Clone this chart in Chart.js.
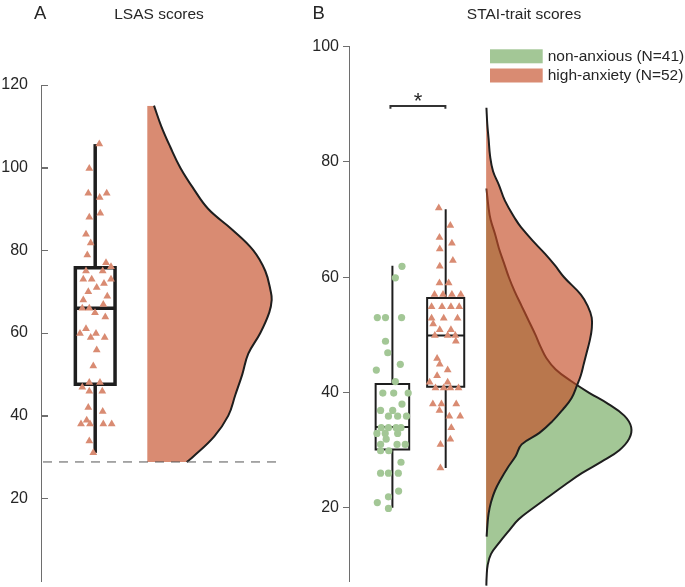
<!DOCTYPE html>
<html><head><meta charset="utf-8">
<script src="https://cdn.jsdelivr.net/npm/chart.js@4.4.1/dist/chart.umd.min.js"></script>
<style>
html,body{margin:0;padding:0;background:#fff;width:685px;height:587px;overflow:hidden;position:relative}
#ca{position:absolute;left:0;top:0}
#cb{position:absolute;left:300px;top:0}
</style></head><body>
<canvas id="ca" width="300" height="587"></canvas>
<canvas id="cb" width="385" height="587"></canvas>
<script>
// ---------------- DATA ----------------
const lsasTicks = [20, 40, 60, 80, 100, 120];
const staiTicks = [20, 40, 60, 80, 100];
const panelTitles = ['LSAS scores', 'STAI-trait scores'];
const groupLabels = ['non-anxious (N=41)', 'high-anxiety (N=52)'];

// Panel A: LSAS scores (high-anxiety group)
const lsasScores = [105.7, 99.8, 93.8, 93.8, 92.8, 89.0, 88.0, 83.9, 81.8, 78.9, 77.0, 76.0, 75.0, 75.0, 73.0, 73.0, 73.0, 72.0, 71.0, 70.0, 68.9, 68.0, 66.9, 66.0, 66.0, 64.9, 63.9, 61.0, 59.9, 59.9, 58.9, 58.9, 55.9, 52.0, 48.0, 48.0, 46.9, 45.9, 45.9, 42.0, 41.0, 38.9, 38.0, 38.0, 38.0, 38.0, 33.9, 31.0];
const lsasJitter = [4.1, -5.9, -6.9, 11.5, 4.5, 5.1, -5.9, -9.2, -4.5, -7.9, 10.8, 15.8, -9.2, 7.5, -11.9, -3.5, 15.8, 8.8, 1.5, -6.9, 12.1, -11.9, 8.1, -12.9, -5.9, -0.2, 10.1, -9.2, -15.2, 0.8, -4.5, 9.5, 1.5, -1.9, -5.9, 4.8, -12.9, -5.9, 7.1, -6.9, 7.5, -8.5, -14.2, -5.2, 8.1, 16.5, -5.9, -1.9];
const lsasBox = [31.0, 47.6, 66.0, 75.8, 105.7]; // whisker low, Q1, median, Q3, whisker high
const lsasDensityScores = [28.8, 30, 35, 40, 45, 50, 55, 60, 65, 68, 70, 75, 80, 85, 90, 95, 100, 105, 110, 115];
const lsasDensityWidths = [39.4, 45.5, 67, 81, 88, 95, 101, 113, 122, 124.4, 123.5, 118, 106, 85, 61, 46, 33, 23, 14, 6.7];
const lsasCutoff = 28.8;

// Panel B: STAI-trait scores
const nonScores = [61.9, 59.9, 53.0, 53.0, 53.0, 48.9, 46.9, 44.9, 43.9, 41.9, 39.9, 39.9, 39.9, 38.0, 36.9, 36.9, 35.9, 35.9, 35.9, 33.9, 33.9, 33.9, 33.9, 32.9, 32.9, 32.9, 31.9, 31.0, 31.0, 31.0, 29.9, 29.9, 27.9, 26.0, 26.0, 26.0, 22.9, 21.9, 20.9, 19.9];
const nonJitter = [9.7, 3, -15.3, -7, 9.3, -7, -4.7, 8, -16.3, 3, -9.7, 1.3, 16, 9.7, -12, 0.3, -4, 5.3, 14.3, -11.3, -4, 3.7, 8.7, -15.7, -7.3, 5.3, -6.3, -12, 4.7, 13, -12, -3.7, 8.7, -12, -4, 6, 6.3, -4, -15.3, -4];
const highScores = [72.0, 69.0, 66.9, 65.9, 64.9, 62.9, 61.9, 59.0, 59.0, 57.0, 57.0, 57.0, 57.0, 54.9, 54.9, 54.9, 54.9, 52.9, 52.9, 52.9, 51.9, 50.9, 50.9, 49.9, 49.9, 49.9, 48.9, 45.9, 44.9, 43.9, 42.9, 41.8, 41.8, 40.8, 40.8, 40.8, 40.8, 38.0, 38.0, 38.0, 36.9, 35.9, 35.9, 33.9, 31.9, 31.0, 26.9];
const highJitter = [-7, 4.7, -6.3, 6.3, -6, 7.3, -6, -6.3, 3, -11.3, -2.7, 6.3, 15.3, -14.3, -3.7, 5.3, 13.7, -14.3, -2, 12, -12.7, -6, 5.3, -11, 2, 9.7, 10.3, -8.7, -6, 2, -8.7, -16.3, 2, -10.3, -2, 4.7, 13, -13, -4.3, 10.7, -6.3, 3.7, 14.7, 5.7, 4.7, -5.3, -5.3];
const nonBox = [20.0, 30.1, 34.0, 41.5, 62.0];
const highBox = [26.9, 41.0, 49.9, 56.4, 71.8];
const nonDensityScores = [6.5, 8, 10, 12, 14, 16, 18, 20, 22, 24, 26, 28, 30, 32, 34, 36, 38, 40, 42, 44, 46, 48, 50, 52.5, 55, 57.5, 60, 62.5, 65, 67.5, 70, 72, 75.4];
const nonDensityWidths = [0.2, 0.5, 1.5, 5, 13.5, 23, 33, 48, 64, 80, 97, 117, 135, 145, 147, 140, 124, 104, 86, 70.5, 61, 55, 50, 43, 36, 29, 23, 18, 13, 9, 4.5, 2.5, 0.3];
const highDensityScores = [15, 17, 19, 21, 23, 25, 27, 29, 31, 33, 35, 37, 39, 41.2, 43, 45, 47, 49, 51, 53, 55, 57, 60, 62, 64, 66, 68.7, 70, 73.3, 76, 78.4, 81, 84, 86.5, 89.4];
const highDensityWidths = [0.5, 1.3, 2.5, 5, 9, 15, 22, 30, 36, 54, 67, 77.5, 86.5, 92, 96, 99, 102, 105, 107, 107, 103, 96, 79, 70, 60, 49, 35.3, 30, 19, 13, 7, 4, 2.5, 1.2, 0.3];
const sigBracket = 89.7;

// ---------------- STYLE / LAYOUT ----------------
const FONT = "'Liberation Sans', Arial, Helvetica, sans-serif";
const C_ORANGE = '#d98b72';
const C_ORANGE_TR = 'rgba(197,77,38,0.65)';
const C_GREEN = '#a3c796';
const C_DARK = '#1e1e1e';
const C_AXIS = '#6e6e6e';
Chart.defaults.font.family = FONT;
Chart.defaults.color = '#262626';
Chart.defaults.animation = false;

const LA = {center: 54.2, half: 19.85, densBase: 106.3, dashFrom: 2, dashTo: 237};
const LB = {nonCenter: 44, nonHalf: 17, highCenter: 98, highHalf: 18.8, densBase: 139, brL: 42, brR: 97.7};

function pts(xs, ys) { return ys.map((y, i) => ({x: xs[i], y})); }
function boxSets(b, center, half, width) {
  const [lo, q1, med, q3, hi] = b;
  const L = center - half, R = center + half;
  const c = {type: 'line', showLine: true, pointRadius: 0, borderColor: C_DARK, borderWidth: width, fill: false, tension: 0, order: 5};
  return [
    {...c, data: [{x: L, y: q1}, {x: L, y: q3}, {x: R, y: q3}, {x: R, y: q1}, {x: L, y: q1}], borderJoinStyle: 'miter', borderCapStyle: 'square'},
    {...c, data: [{x: L, y: med}, {x: R, y: med}]},
    {...c, data: [{x: center, y: q3}, {x: center, y: hi}]},
    {...c, data: [{x: center, y: lo}, {x: center, y: q1}]}
  ];
}
function densitySet(scores, widths, base, fillColor, order, extra) {
  return Object.assign({
    type: 'line', data: scores.map((s, i) => ({x: base + widths[i], y: s})),
    borderColor: C_DARK, borderWidth: 2, backgroundColor: fillColor,
    fill: {value: base}, tension: 0.4, pointRadius: 0, order
  }, extra || {});
}

const textPlugin = {
  id: 'panelText',
  afterDraw(chart, args, opts) {
    const ctx = chart.ctx;
    ctx.save();
    if (opts.innerTicks) {
      const ys = chart.scales.y;
      ctx.strokeStyle = C_AXIS; ctx.lineWidth = 1;
      ys.ticks.forEach(t => {
        const py = Math.round(ys.getPixelForValue(t.value)) + 0.5;
        ctx.beginPath(); ctx.moveTo(ys.right, py); ctx.lineTo(ys.right + opts.innerTicks, py); ctx.stroke();
      });
    }
    (opts.items || []).forEach(it => {
      ctx.font = it.font; ctx.fillStyle = it.color || '#262626';
      ctx.textAlign = it.align || 'left'; ctx.textBaseline = 'alphabetic';
      ctx.fillText(it.text, it.x, it.y);
    });
    if (opts.legend) {
      opts.legend.forEach(it => {
        ctx.fillStyle = it.color;
        ctx.fillRect(it.x, it.y, it.w, it.h);
        ctx.font = '15.5px ' + FONT; ctx.fillStyle = '#262626';
        ctx.textAlign = 'left'; ctx.textBaseline = 'middle';
        ctx.fillText(it.text, it.x + it.w + 5, it.y + it.h / 2 + 0.5);
      });
    }
    if (opts.star) {
      const xs = chart.scales.x, ys = chart.scales.y;
      const px = xs.getPixelForValue(opts.star.x), py = ys.getPixelForValue(opts.star.y);
      ctx.font = '22px ' + FONT; ctx.fillStyle = '#262626'; ctx.textAlign = 'center';
      ctx.textBaseline = 'alphabetic';
      const m = ctx.measureText('*');
      const base = py - 9.5 + (m.actualBoundingBoxAscent - m.actualBoundingBoxDescent) / 2;
      ctx.fillText('*', px, base);
    }
    ctx.restore();
  }
};

function yScale(min, max, ticks, width, tickLen, pad) {
  return {
    type: 'linear', position: 'left', min, max,
    afterBuildTicks: s => { s.ticks = ticks.map(v => ({value: v})); },
    afterFit: s => { s.width = width; s.paddingTop = 0; s.paddingBottom = 0; },
    grid: {drawOnChartArea: false, drawTicks: true, tickLength: tickLen, color: C_AXIS, tickColor: C_AXIS, lineWidth: 1},
    border: {display: true, color: C_AXIS, width: 1},
    ticks: {padding: pad, font: {size: 16}, color: '#262626', callback: v => String(v)}
  };
}

// ---------------- CHART A ----------------
new Chart(document.getElementById('ca'), {
  type: 'line',
  data: {datasets: [
    {type: 'line', data: pts(lsasJitter.map(j => LA.center + j), lsasScores), showLine: false,
     pointStyle: 'triangle', pointRadius: 4.5, pointBackgroundColor: C_ORANGE, pointBorderWidth: 0, order: 0},
    {type: 'line', data: [{x: LA.dashFrom, y: lsasCutoff}, {x: LA.dashTo, y: lsasCutoff}], borderColor: '#555',
     borderWidth: 1, borderDash: [9, 7], pointRadius: 0, fill: false, order: 1},
    ...boxSets(lsasBox, LA.center, LA.half, 3.5),
    densitySet(lsasDensityScores, lsasDensityWidths, LA.densBase, C_ORANGE, 10)
  ]},
  options: {
    responsive: false, indexAxis: 'y', events: [],
    layout: {padding: {top: 85, bottom: 6, left: 0, right: 9}},
    scales: {
      x: {type: 'linear', min: 0, max: 250, display: false},
      y: yScale(0, 120, lsasTicks, 41, -7, 20)
    },
    plugins: {
      legend: {display: false}, tooltip: {enabled: false},
      panelText: {
        innerTicks: 7,
        items: [
          {text: 'A', x: 34, y: 18.5, font: '18.5px ' + FONT},
          {text: panelTitles[0], x: 159, y: 18.5, font: '15.5px ' + FONT, align: 'center'}
        ]
      }
    }
  },
  plugins: [textPlugin]
});

// ---------------- CHART B ----------------
new Chart(document.getElementById('cb'), {
  type: 'line',
  data: {datasets: [
    {type: 'line', data: pts(nonJitter.map(j => LB.nonCenter + j), nonScores), showLine: false,
     pointStyle: 'circle', pointRadius: 3.6, pointBackgroundColor: C_GREEN, pointBorderWidth: 0, order: 0},
    {type: 'line', data: pts(highJitter.map(j => LB.highCenter + j), highScores), showLine: false,
     pointStyle: 'triangle', pointRadius: 4.5, pointBackgroundColor: C_ORANGE, pointBorderWidth: 0, order: 0},
    {type: 'line', data: [{x: LB.brL, y: sigBracket - 0.45}, {x: LB.brL, y: sigBracket}, {x: LB.brR, y: sigBracket}, {x: LB.brR, y: sigBracket - 0.45}],
     borderColor: '#333', borderWidth: 2, pointRadius: 0, fill: false, order: 1},
    ...boxSets(nonBox, LB.nonCenter, LB.nonHalf, 2),
    ...boxSets(highBox, LB.highCenter, LB.highHalf, 2),
    densitySet(highDensityScores, highDensityWidths, LB.densBase, C_ORANGE_TR, 11),
    densitySet(nonDensityScores, nonDensityWidths, LB.densBase, C_GREEN, 12, {clip: false})
  ]},
  options: {
    responsive: false, indexAxis: 'y', events: [],
    layout: {padding: {top: 46.7, bottom: 6, left: 0, right: 0}},
    scales: {
      x: {type: 'linear', min: 0, max: 336, display: false},
      y: yScale(7.3, 100, staiTicks, 49, 6, 4)
    },
    plugins: {
      legend: {display: false}, tooltip: {enabled: false},
      panelText: {
        items: [
          {text: 'B', x: 12.5, y: 18.5, font: '18.5px ' + FONT},
          {text: panelTitles[1], x: 224, y: 18.5, font: '15.5px ' + FONT, align: 'center'}
        ],
        legend: [
          {text: groupLabels[0], color: C_GREEN, x: 190, y: 49.3, w: 52.7, h: 14},
          {text: groupLabels[1], color: C_ORANGE, x: 190, y: 68.5, w: 52.7, h: 14}
        ],
        star: {x: 70, y: sigBracket}
      }
    }
  },
  plugins: [textPlugin]
});
</script>
</body></html>
